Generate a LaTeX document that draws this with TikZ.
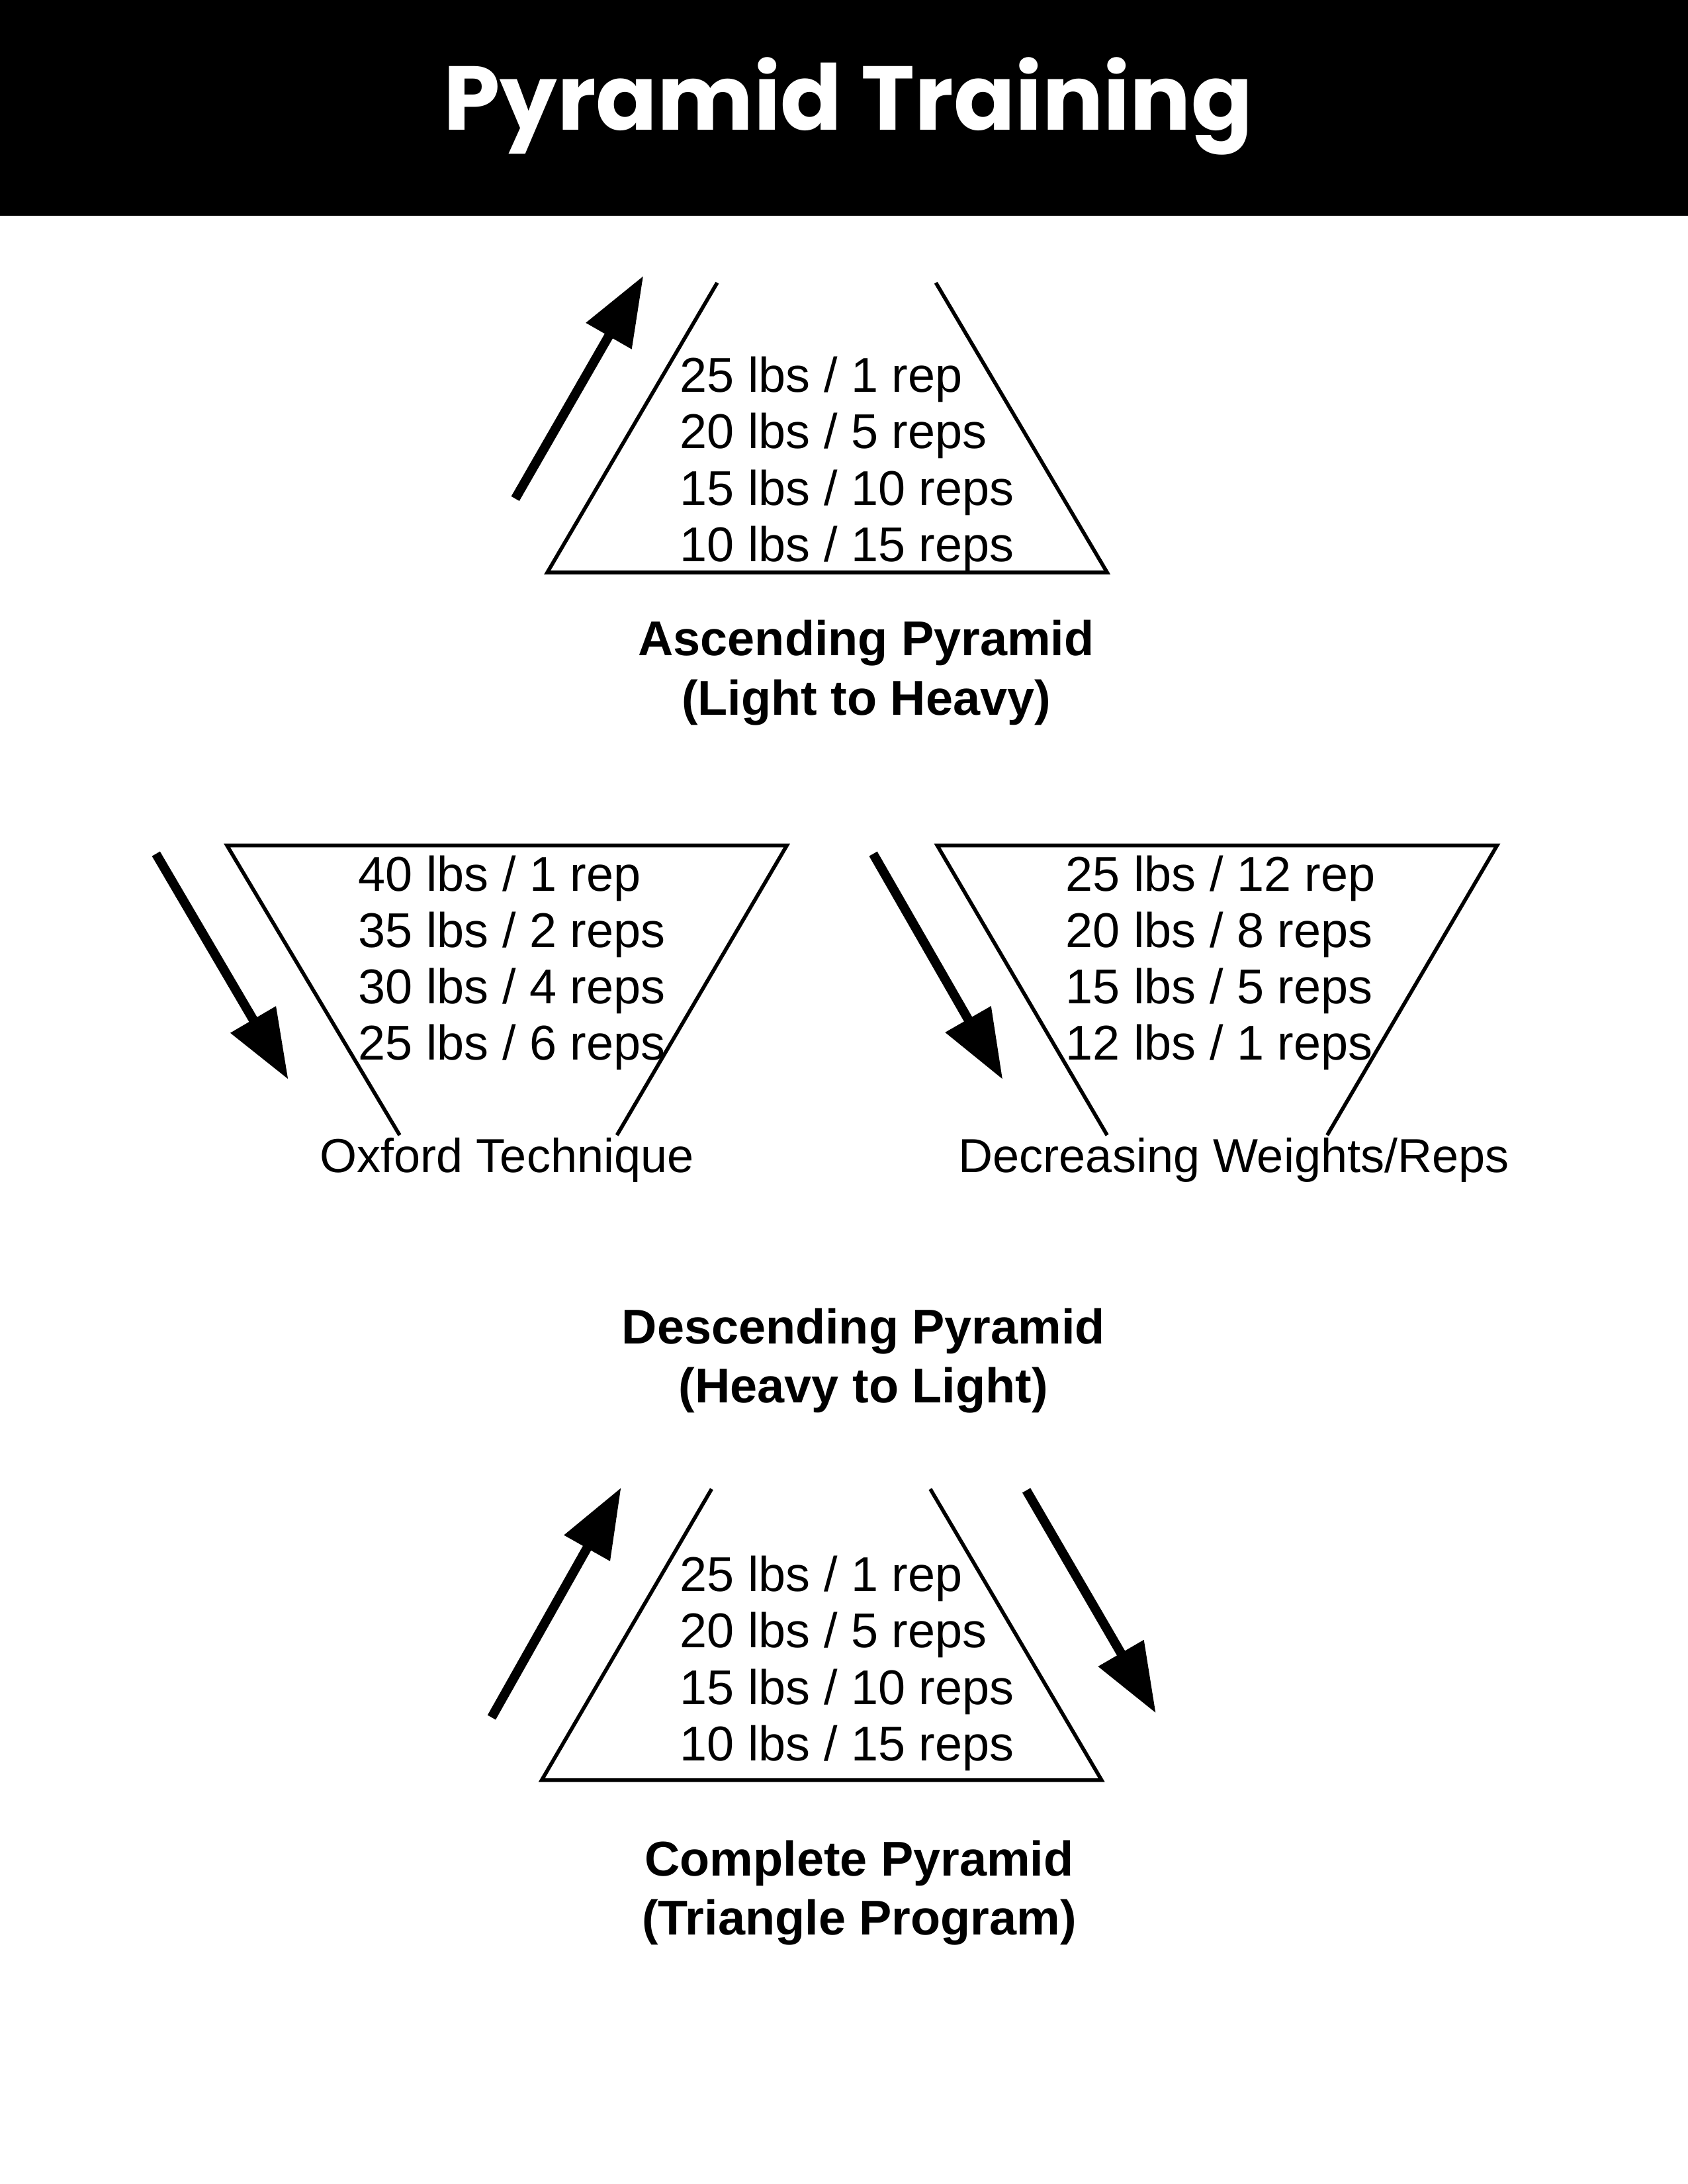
\documentclass[tikz,border=0pt]{standalone}
\usepackage{fontspec}
\setmainfont{Liberation Sans}
\newfontfamily\titlefont{Poppins}
\usetikzlibrary{arrows.meta}
\usetikzlibrary{positioning}

\begin{document}
\begin{tikzpicture}[x=0.2104mm, y=-0.2104mm,
    pyr/.style={line width=1.6pt, line join=miter},
    push/.style={line width=4pt, -{Triangle[length=10.5mm, width=7.6mm]}},
    sets/.style={anchor=west, font=\fontsize{21}{24}\selectfont, align=left, inner sep=0pt},
    tag/.style={font=\fontsize{20.5}{24}\selectfont, inner sep=0pt},
    head/.style={font=\bfseries\fontsize{21}{25.5}\selectfont, align=center, inner sep=0pt}]
  \useasboundingbox (0,0) rectangle (1212,1568);
  % Title banner
  \fill[black] (0,0) rectangle (1212,155);
  \node[text=white, font=\titlefont\bfseries\fontsize{39}{44}\selectfont] (title) at (609,76) {Pyramid Training};

  % Ascending pyramid
  \draw[pyr] (515,203) -- (393,411) -- (795,411) -- (672,203);
  \foreach \w [count=\k] in {25 lbs / 1 rep, 20 lbs / 5 reps, 15 lbs / 10 reps, 10 lbs / 15 reps}
    \node[sets] (asc\k) at (488,{232+40.5*\k}) {\w};
  \coordinate (ascA) at (370,358);
  \coordinate (ascB) at (462,198);
  \draw[push] (ascA) -- (ascB);
  \node[head] (asclbl) at (622,483) {Ascending Pyramid\\(Light to Heavy)};

  % Descending pyramids
  \draw[pyr] (287,815) -- (163,607) -- (565,607) -- (443,815);
  \foreach \w [count=\k] in {40 lbs / 1 rep, 35 lbs / 2 reps, 30 lbs / 4 reps, 25 lbs / 6 reps}
    \node[sets] (oxf\k) at (257,{590+40.5*\k}) {\w};
  \node[tag] (oxflbl) at (364,833) {Oxford Technique};
  \coordinate (oxfA) at (112,613);
  \coordinate (oxfB) at (207,775);
  \draw[push] (oxfA) -- (oxfB);

  \draw[pyr] (795,815) -- (673,607) -- (1075,607) -- (953,815);
  \foreach \w [count=\k] in {25 lbs / 12 rep, 20 lbs / 8 reps, 15 lbs / 5 reps, 12 lbs / 1 reps}
    \node[sets] (dec\k) at (765,{590+40.5*\k}) {\w};
  \node[tag] (declbl) at (886,833) {Decreasing Weights/Reps};
  \coordinate (decA) at (627,613);
  \coordinate (decB) at (720,775);
  \draw[push] (decA) -- (decB);
  \node[head] (deslbl) at (620,977) {Descending Pyramid\\(Heavy to Light)};

  % Complete pyramid
  \draw[pyr] (511,1069) -- (389,1278) -- (791,1278) -- (668,1069);
  \foreach \w [count=\k] in {25 lbs / 1 rep, 20 lbs / 5 reps, 15 lbs / 10 reps, 10 lbs / 15 reps}
    \node[sets] (cmp\k) at (488,{1093+40.5*\k}) {\w};
  \coordinate (upA) at (353,1233);
  \coordinate (upB) at (446,1068);
  \draw[push] (upA) -- (upB);
  \coordinate (dnA) at (737,1070);
  \coordinate (dnB) at (830,1230);
  \draw[push] (dnA) -- (dnB);
  \node[head] (cmplbl) at (617,1359) {Complete Pyramid\\(Triangle Program)};
\end{tikzpicture}
\end{document}
